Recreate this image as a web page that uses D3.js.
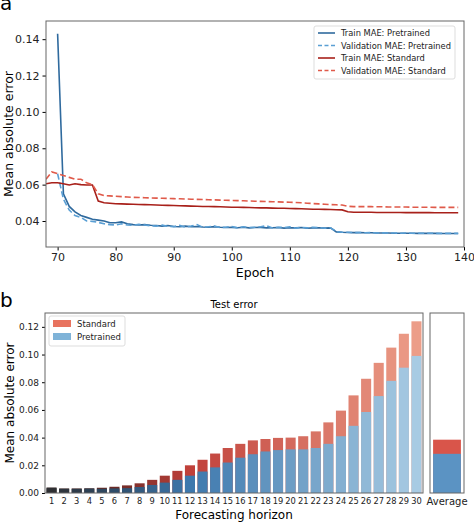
<!DOCTYPE html>
<html><head><meta charset="utf-8">
<script src="https://cdn.jsdelivr.net/npm/d3@7"></script>
<style>body{margin:0;background:#fff;font-family:"DejaVu Sans",sans-serif}</style>
</head><body><svg id="c" width="474" height="524"></svg>
<script>
// panel a data (per epoch)
const stdStart = 68;
const trainStandard = [.0605,.061,.061,.0605,.0598,.0605,.0600,.0598,.0598,.0510,.0500,.0498,.0495,.0494,.0493,.0492,.0491,.0490,.0489,.0488,.0487,.0486,.0485,.0484,.0483,.0482,.0481,.0480,.0480,.0479,.0478,.0477,.0476,.0476,.0475,.0474,.0473,.0472,.0472,.0471,.0470,.0470,.0469,.0468,.0467,.0466,.0465,.0465,.0464,.0463,.0462,.0461,.0451,.0448,.0448,.0448,.0448,.0447,.0447,.0447,.0447,.0447,.0446,.0446,.0446,.0446,.0446,.0445,.0445,.0445,.0445,.0445];
const valStandard = [.0630,.0670,.0660,.0650,.0640,.0630,.0630,.0610,.0600,.0550,.0540,.0538,.0536,.0534,.0532,.0530,.0529,.0528,.0527,.0526,.0525,.0524,.0523,.0522,.0521,.0520,.0519,.0518,.0517,.0516,.0515,.0514,.0513,.0512,.0511,.0510,.0509,.0508,.0507,.0506,.0505,.0504,.0503,.0502,.0500,.0498,.0496,.0494,.0492,.0490,.0489,.0488,.0481,.0479,.0479,.0479,.0479,.0478,.0478,.0477,.0477,.0477,.0477,.0476,.0476,.0476,.0476,.0475,.0475,.0475,.0475,.0475];
const preStart = 70;
const trainPretrained = [.143,.0550,.0480,.0450,.0430,.0420,.0410,.0405,.0400,.0390,.0390,.0395,.0385,.0380,.0378,.0380,.0377,.0375,.0372,.0375,.0370,.0368,.0372,.0368,.0370,.0367,.0366,.0369,.0366,.0364,.0365,.0363,.0366,.0362,.0364,.0365,.0362,.0363,.0364,.0361,.0363,.0362,.0364,.0360,.0362,.0363,.0361,.0362,.0340,.0338,.0337,.0336,.0336,.0335,.0335,.0334,.0334,.0334,.0333,.0333,.0333,.0333,.0332,.0332,.0332,.0332,.0331,.0331,.0331,.0331];
const valPretrained = [.0660,.0520,.0460,.0430,.0420,.0400,.0398,.0392,.0385,.0380,.0378,.0385,.0378,.0376,.0382,.0378,.0374,.0372,.0377,.0370,.0369,.0376,.0366,.0372,.0380,.0366,.0368,.0372,.0364,.0366,.0370,.0362,.0368,.0364,.0366,.0368,.0374,.0362,.0366,.0364,.0368,.0361,.0365,.0362,.0366,.0364,.0360,.0363,.0342,.0338,.0338,.0336,.0337,.0335,.0336,.0334,.0335,.0334,.0334,.0333,.0334,.0333,.0333,.0333,.0333,.0332,.0332,.0332,.0332,.0332];

// panel b data
const horizons = d3.range(1, 31).map(String);
const testStandard = [.0040,.0033,.0033,.0034,.0038,.0045,.0055,.0070,.0095,.0125,.0160,.0200,.0240,.0285,.0325,.0355,.0380,.0390,.0398,.0400,.0410,.0445,.0510,.0595,.0705,.0825,.0940,.1050,.1150,.1240];
const testPretrained = [.0035,.0030,.0030,.0032,.0030,.0033,.0035,.0043,.0058,.0075,.0095,.0125,.0155,.0185,.0220,.0255,.0280,.0300,.0310,.0315,.0315,.0325,.0355,.0410,.0485,.0585,.0700,.0810,.0905,.0990];
const avgStandard = 0.0385, avgPretrained = 0.0283;

const svg = d3.select("#c");

// ---------- panel a ----------
const ax = d3.scaleLinear().domain([68, 140]).range([46, 464]);
const ay = d3.scaleLinear().domain([0.0257, 0.150]).range([247, 21]);
const ga = svg.append("g");
ga.append("text").attr("x", 0).attr("y", 10).attr("font-size", 20).text("a");

ga.append("clipPath").attr("id", "ca").append("rect")
  .attr("x", 46).attr("y", 21).attr("width", 418).attr("height", 226);
const line = start => d3.line().x((d, i) => ax(start + i)).y(d => ay(d));
const series = [
  {d: trainPretrained, s: preStart, c: "#2f6a9e", dash: null},
  {d: valPretrained, s: preStart, c: "#5a9fd4", dash: "6,3"},
  {d: trainStandard, s: stdStart, c: "#a8201a", dash: null},
  {d: valStandard, s: stdStart, c: "#e05a4a", dash: "6,3"}
];
const lg = ga.append("g").attr("clip-path", "url(#ca)");
series.forEach(s => lg.append("path").attr("d", line(s.s)(s.d)).attr("fill", "none")
  .attr("stroke", s.c).attr("stroke-width", 1.6).attr("stroke-dasharray", s.dash));

ga.append("g").attr("transform", "translate(0,247)")
  .call(d3.axisBottom(ax).tickValues(d3.range(70, 141, 10)).tickSizeOuter(0).tickSize(3.5))
  .call(g => g.selectAll("text").attr("font-size", 11).attr("fill", "#222").attr("font-family", "DejaVu Sans"))
  .call(g => g.select(".domain").remove());
ga.append("g").attr("transform", "translate(46,0)")
  .call(d3.axisLeft(ay).tickValues([.04, .06, .08, .10, .12, .14]).tickFormat(d3.format(".2f")).tickSize(3.5))
  .call(g => g.selectAll("text").attr("font-size", 11).attr("fill", "#222").attr("font-family", "DejaVu Sans"))
  .call(g => g.select(".domain").remove());
ga.append("rect").attr("x", 46).attr("y", 21).attr("width", 418).attr("height", 226)
  .attr("fill", "none").attr("stroke", "#666");
ga.append("text").attr("x", 255).attr("y", 277).attr("text-anchor", "middle").attr("font-size", 12.5).text("Epoch");
ga.append("text").attr("transform", "translate(13,134) rotate(-90)").attr("text-anchor", "middle")
  .attr("font-size", 12.5).text("Mean absolute error");

const leg = ga.append("g").attr("transform", "translate(314,26)");
leg.append("rect").attr("width", 141).attr("height", 53).attr("rx", 2).attr("fill", "#fff").attr("stroke", "#ddd");
["Train MAE: Pretrained", "Validation MAE: Pretrained", "Train MAE: Standard", "Validation MAE: Standard"].forEach((t, i) => {
  const y = 7 + i * 12.5;
  leg.append("line").attr("x1", 4).attr("x2", 21).attr("y1", y).attr("y2", y)
    .attr("stroke", series[i].c).attr("stroke-width", 1.6).attr("stroke-dasharray", series[i].dash ? "4,2.5" : null);
  leg.append("text").attr("x", 27).attr("y", y + 3.3).attr("font-size", 8.3).attr("fill", "#222").text(t);
});

// ---------- panel b ----------
const gb = svg.append("g");
gb.append("text").attr("x", 0).attr("y", 307).attr("font-size", 20).text("b");
const bx = d3.scaleBand().domain(horizons).range([45, 423]).paddingInner(0.2).paddingOuter(0.12);
const by = d3.scaleLinear().domain([0, 0.130]).range([493, 313]);
const redC = d3.scaleLinear().domain([1, 6, 12, 30]).range(["#3a2f2f", "#6a2a26", "#c0403a", "#ec9d88"]);
const blueC = d3.scaleLinear().domain([1, 6, 12, 30]).range(["#2e2f33", "#2e4d6a", "#3d78ad", "#a8cbe3"]);

gb.selectAll(".std").data(testStandard).enter().append("rect")
  .attr("x", (d, i) => bx(horizons[i])).attr("width", bx.bandwidth())
  .attr("y", d => by(d)).attr("height", d => by(0) - by(d)).attr("fill", (d, i) => redC(i + 1));
gb.selectAll(".pre").data(testPretrained).enter().append("rect")
  .attr("x", (d, i) => bx(horizons[i])).attr("width", bx.bandwidth())
  .attr("y", d => by(d)).attr("height", d => by(0) - by(d)).attr("fill", (d, i) => blueC(i + 1));

gb.append("g").attr("transform", "translate(0,493)")
  .call(d3.axisBottom(bx).tickSize(0).tickPadding(5))
  .call(g => g.selectAll("text").attr("font-size", 8.3).attr("fill", "#222").attr("font-family", "DejaVu Sans"))
  .call(g => g.select(".domain").remove());
gb.append("g").attr("transform", "translate(45,0)")
  .call(d3.axisLeft(by).tickValues([0, .02, .04, .06, .08, .10, .12]).tickFormat(d3.format(".2f")).tickSize(3))
  .call(g => g.selectAll("text").attr("font-size", 9).attr("fill", "#222").attr("font-family", "DejaVu Sans"))
  .call(g => g.select(".domain").remove());
gb.append("rect").attr("x", 45).attr("y", 313).attr("width", 378).attr("height", 180)
  .attr("fill", "none").attr("stroke", "#666");
gb.append("text").attr("x", 234).attr("y", 308).attr("text-anchor", "middle").attr("font-size", 10).text("Test error");
gb.append("text").attr("x", 234).attr("y", 519).attr("text-anchor", "middle").attr("font-size", 12).text("Forecasting horizon");
gb.append("text").attr("transform", "translate(14,403) rotate(-90)").attr("text-anchor", "middle")
  .attr("font-size", 12).text("Mean absolute error");

const lb = gb.append("g").attr("transform", "translate(49,316)");
lb.append("rect").attr("width", 76).attr("height", 30).attr("rx", 2).attr("fill", "#fff").attr("stroke", "#ddd");
[["Standard", "#e8735f"], ["Pretrained", "#7fb3d8"]].forEach((t, i) => {
  lb.append("rect").attr("x", 4).attr("y", 4 + i * 13).attr("width", 18).attr("height", 7).attr("fill", t[1]);
  lb.append("text").attr("x", 28).attr("y", 11 + i * 13).attr("font-size", 8.5).attr("fill", "#222").text(t[0]);
});

// average panel
const avgX = d3.scaleBand().domain(["Average"]).range([430, 464]).padding(0.1);
gb.append("rect").attr("x", avgX("Average")).attr("width", avgX.bandwidth())
  .attr("y", by(avgStandard)).attr("height", by(0) - by(avgStandard)).attr("fill", "#d9554a");
gb.append("rect").attr("x", avgX("Average")).attr("width", avgX.bandwidth())
  .attr("y", by(avgPretrained)).attr("height", by(0) - by(avgPretrained)).attr("fill", "#5b93c3");
gb.append("g").attr("transform", "translate(0,493)")
  .call(d3.axisBottom(avgX).tickSize(0).tickPadding(5))
  .call(g => g.selectAll("text").attr("font-size", 10).attr("fill", "#222").attr("font-family", "DejaVu Sans"))
  .call(g => g.select(".domain").remove());
gb.append("rect").attr("x", 430).attr("y", 313).attr("width", 34).attr("height", 180)
  .attr("fill", "none").attr("stroke", "#666");
</script></body></html>
